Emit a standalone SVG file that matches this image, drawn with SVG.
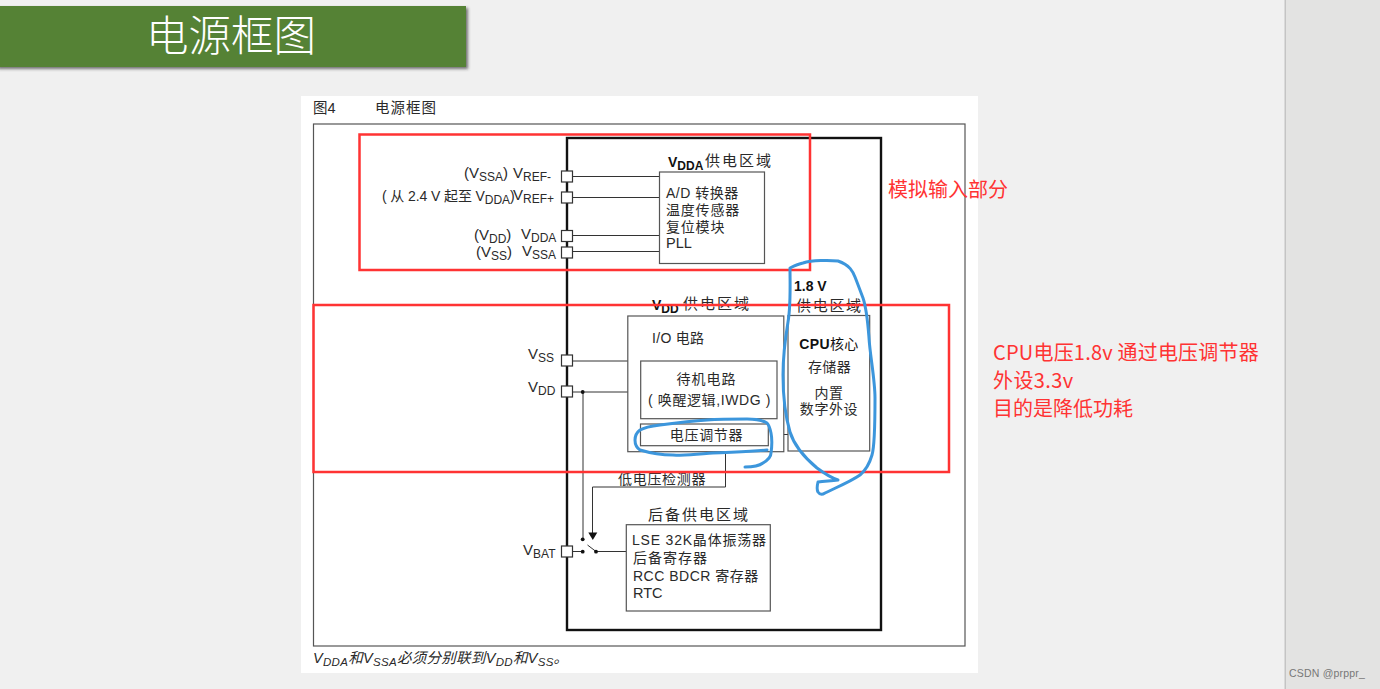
<svg xmlns="http://www.w3.org/2000/svg" width="1380" height="689" viewBox="0 0 1380 689">
<style>
text{font-family:"Liberation Sans","Noto Sans CJK SC",sans-serif;fill:#2a2a2a;font-size:14px}
.c{text-anchor:middle}
.e{text-anchor:end}
.b{font-weight:bold;fill:#111}
.v{font-size:15px}
.box{fill:#fff;stroke:#555;stroke-width:1.2}
.pad{fill:#fff;stroke:#333;stroke-width:1.2}
.ln{fill:none;stroke:#333;stroke-width:1}
.red{fill:none;stroke:#ff3333;stroke-width:2.5}
.blue{fill:none;stroke:#3c96dc;stroke-width:3;stroke-linecap:round;stroke-linejoin:round}
.note{fill:#ff3333;font-size:20px;font-family:"Noto Sans CJK SC","Liberation Sans",sans-serif}
.dot{fill:#111}
</style>
<defs>
<filter id="sh" x="-5%" y="-20%" width="110%" height="140%"><feDropShadow dx="2" dy="2" stdDeviation="1.5" flood-color="#333" flood-opacity="0.65"/></filter>
</defs>
<rect width="1380" height="689" fill="#f0f0f0"/>
<rect x="1285" width="95" height="689" fill="#e3e3e2"/>
<rect x="1284.5" width="1.5" height="689" fill="#c4c4c4"/>
<text x="1289" y="677" style="font-size:10.5px;fill:#777;letter-spacing:.2px">CSDN @prppr_</text>

<g id="title">
<rect x="-4" y="6" width="470" height="61" fill="#548235" filter="url(#sh)"/>
<text x="146" y="51" style="font-size:42.500px;fill:#fff;font-family:'Noto Sans CJK SC',sans-serif;font-weight:300">电源框图</text>
</g>

<rect x="301" y="96" width="677" height="577" fill="#fff"/>
<text x="313" y="113" style="font-size:14.500px">图4</text>
<text x="375" y="113" style="font-size:14.500px;letter-spacing:1px">电源框图</text>
<rect x="313.500" y="124" width="651.500" height="522" fill="none" stroke="#555" stroke-width="1.2"/>
<rect x="567" y="138" width="314" height="492" fill="#fff" stroke="#111" stroke-width="2.4"/>

<g id="connectors">
<path class="ln" d="M572 176.500H659M572 197.500H659M572 235.500H659M572 251.500H659"/>
<path class="ln" d="M572 361H628M572 392H628"/>
<path class="ln" d="M583 392V539"/>
<path class="ln" d="M768 434.500H788"/>
<path class="ln" d="M725.500 446V487H592.500V533"/>
<path d="M588.300 532.500H597.300L592.800 540Z" fill="#111"/>
<path class="ln" d="M572 551.500H583M587.500 545L596 551.500M596 551.500H626"/>
<circle class="dot" cx="582.700" cy="392" r="1.900"/>
<circle class="dot" cx="582.700" cy="539.300" r="1.900"/>
<circle class="dot" cx="582.700" cy="551.700" r="1.900"/>
<circle class="dot" cx="596" cy="551.700" r="1.900"/>
</g>

<g id="pins">
<rect class="pad" x="561.500" y="171" width="11" height="11"/>
<rect class="pad" x="561.500" y="192" width="11" height="11"/>
<rect class="pad" x="561.500" y="230.500" width="11" height="11"/>
<rect class="pad" x="561.500" y="247" width="11" height="11"/>
<rect class="pad" x="561.500" y="355" width="11" height="11"/>
<rect class="pad" x="561.500" y="386" width="11" height="11"/>
<rect class="pad" x="561.500" y="546" width="11" height="11"/>
<text x="464" y="178" class="v">(V<tspan dy="3" font-size="12">SSA</tspan><tspan dy="-3">)</tspan></text>
<text x="513" y="178" class="v">V<tspan dy="3" font-size="12">REF-</tspan></text>
<text x="382" y="201" style="font-size:14px;letter-spacing:-.1px">( 从 2.4 V 起至 V<tspan dy="3" font-size="12">DDA</tspan><tspan dy="-3">)</tspan></text>
<text x="513" y="200" class="v">V<tspan dy="3" font-size="12">REF+</tspan></text>
<text x="474" y="240" class="v">(V<tspan dy="3" font-size="12">DD</tspan><tspan dy="-3">)</tspan></text>
<text x="521" y="239" class="v">V<tspan dy="3" font-size="12">DDA</tspan></text>
<text x="476" y="257" class="v">(V<tspan dy="3" font-size="12">SS</tspan><tspan dy="-3">)</tspan></text>
<text x="522" y="256" class="v">V<tspan dy="3" font-size="12">SSA</tspan></text>
<text x="528" y="359" class="v">V<tspan dy="3" font-size="12">SS</tspan></text>
<text x="528" y="392" class="v">V<tspan dy="3" font-size="12">DD</tspan></text>
<text x="523" y="555" class="v">V<tspan dy="3" font-size="12">BAT</tspan></text>
</g>

<g id="vdda-domain">
<text x="668" y="167" class="b" style="font-size:14px">V<tspan dy="3" font-size="12">DDA</tspan></text>
<text x="705" y="166" style="font-size:15px;letter-spacing:2px">供电区域</text>
<rect class="box" x="659.500" y="172" width="105" height="91.500"/>
<text x="666" y="198" style="letter-spacing:.5px">A/D 转换器</text>
<text x="666" y="215" style="letter-spacing:.8px">温度传感器</text>
<text x="666" y="232" style="letter-spacing:.8px">复位模块</text>
<text x="666" y="248" style="font-size:14.500px">PLL</text>
</g>

<g id="vdd-domain">
<text x="652" y="310" class="b" style="font-size:14px">V<tspan dy="3" font-size="12">DD</tspan></text>
<text x="683" y="309" style="font-size:15px;letter-spacing:2px">供电区域</text>
<rect class="box" x="627.800" y="316" width="156" height="135.700"/>
<text x="652" y="343" style="letter-spacing:.3px">I/O 电路</text>
</g>
<g id="standby">
<rect class="box" x="640.700" y="361" width="136.300" height="57.700"/>
<text x="706.500" y="384" class="c" style="letter-spacing:1px">待机电路</text>
<text x="709.500" y="405" class="c" style="letter-spacing:.6px">( 唤醒逻辑,IWDG )</text>
</g>
<g id="regulator">
<rect class="box" x="640.500" y="424" width="127.800" height="21.700" stroke="#333"/>
<text x="706.500" y="440" class="c" style="letter-spacing:.7px">电压调节器</text>
</g>
<text x="618" y="484" style="letter-spacing:.7px">低电压检测器</text>

<g id="core-domain">
<text x="794" y="291" class="b">1.8 V</text>
<text x="796" y="311" style="font-size:15px;letter-spacing:1.700px">供电区域</text>
<rect class="box" x="788" y="315.500" width="81.700" height="135.500"/>
<text x="829" y="349" class="c" style="fill:#111;letter-spacing:.4px"><tspan font-weight="bold">CPU</tspan>核心</text>
<text x="829.500" y="372" class="c" style="letter-spacing:.4px">存储器</text>
<text x="829" y="398" class="c" style="letter-spacing:.4px">内置</text>
<text x="829" y="414" class="c" style="letter-spacing:.6px">数字外设</text>
</g>

<g id="backup-domain">
<text x="648" y="520" style="font-size:15px;letter-spacing:2px">后备供电区域</text>
<rect class="box" x="626.300" y="524.700" width="144" height="86.300"/>
<text x="632" y="545" style="letter-spacing:.8px">LSE  32K晶体振荡器</text>
<text x="633" y="563" style="letter-spacing:1px">后备寄存器</text>
<text x="633" y="581" style="letter-spacing:.5px">RCC BDCR 寄存器</text>
<text x="633" y="598" style="font-size:14.500px">RTC</text>
</g>

<text x="313" y="663" style="font-style:italic;font-size:14.500px;letter-spacing:.3px">V<tspan dy="3" font-size="11.500">DDA</tspan><tspan dy="-3">和V</tspan><tspan dy="3" font-size="11.500">SSA</tspan><tspan dy="-3">必须分别联到V</tspan><tspan dy="3" font-size="11.500">DD</tspan><tspan dy="-3">和V</tspan><tspan dy="3" font-size="11.500">SS</tspan><tspan dy="-3">。</tspan></text>

<g id="annotations">
<rect class="red" x="359.500" y="134.500" width="450.500" height="135.500"/>
<rect class="red" x="313.500" y="305" width="635.500" height="167"/>
<path class="blue" d="M790 268C790 285 791 305 788 322C785 340 783 355 783 375C783 395 785 415 790 432C794 445 805 458 817 468C825 474 832 478 838 480C830 481 824 481 818 482C817 486 817 490 818 492C820 495 822 495 825 493C835 488 850 482 860 475C866 470 870 462 872 455C875 445 875 420 875 398C875 380 870 355 869 338C868 325 867 310 863 298C860 290 857 282 855 277C853 272 850 265 838 261C830 260 812 260 803 263C798 264 794 266 790 268Z"/>
<path class="blue" d="M745 467C752 467 759 466 763 463C768 460 771 457 771 453C772 446 772 438 771 433C770 428 769 425 767 423C762 420 755 419 747 419C735 419 720 419 707 420C690 421 675 423 660 425C652 426 645 427 640 430C636 433 635 437 635 440C635 445 637 448 640 450C650 453 660 455 673 455C687 456 700 454 713 453C730 452 750 452 767 450"/>
<text class="note" x="888" y="197">模拟输入部分</text>
<text class="note" x="993" y="360" style="letter-spacing:.2px">CPU电压1.8v 通过电压调节器</text>
<text class="note" x="993" y="388" style="letter-spacing:.4px">外设3.3v</text>
<text class="note" x="993" y="416">目的是降低功耗</text>
</g>
</svg>
